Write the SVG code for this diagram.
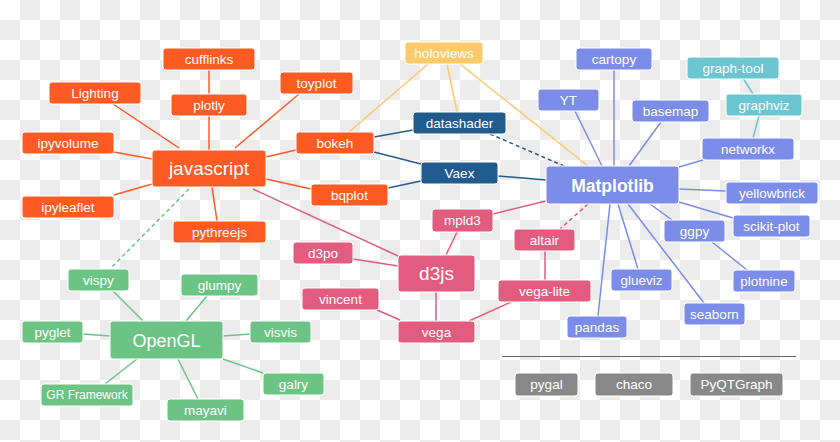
<svg xmlns="http://www.w3.org/2000/svg" width="840" height="442" viewBox="0 0 840 442">
<defs>
<pattern id="checker" x="0" y="0" width="40" height="40" patternUnits="userSpaceOnUse">
<rect x="0" y="0" width="40" height="40" fill="#ffffff"/>
<rect x="20" y="0" width="20" height="20" fill="#ececec"/>
<rect x="0" y="20" width="20" height="20" fill="#ececec"/>
</pattern>
<style>
.n rect{stroke:#ffffff;stroke-width:1;}
.n text{fill:#ffffff;font-family:"Liberation Sans",Arial,sans-serif;font-size:13.5px;text-anchor:middle;}
.big text{font-size:19px;}
.or rect{fill:#fd5a24;}
.ye rect{fill:#fdc96b;}
.db rect{fill:#225c8f;}
.bl rect{fill:#7b8ce9;}
.te rect{fill:#6cc6d2;}
.pk rect{fill:#e15c7e;}
.gr rect{fill:#6cc484;}
.gy rect{fill:#888888;}
#connectors line{stroke-width:1.5;fill:none;}
.c-or{stroke:#fd5a24;}
.c-ye{stroke:#fdc96b;}
.c-db{stroke:#225c8f;}
.c-bl{stroke:#7b8ce9;}
.c-te{stroke:#6cc6d2;}
.c-pk{stroke:#e15c7e;}
.c-gr{stroke:#6cc484;}
.dash{stroke-dasharray:4 3;}
</style>
</defs>
<rect x="0" y="0" width="840" height="442" fill="url(#checker)"/>

<g id="connectors">
<line class="c-or" x1="113" y1="104" x2="179" y2="148"/>
<line class="c-or" x1="209" y1="70" x2="209" y2="94"/>
<line class="c-or" x1="209" y1="116" x2="209" y2="150"/>
<line class="c-or" x1="235" y1="148" x2="299" y2="94"/>
<line class="c-or" x1="114" y1="152" x2="152" y2="159"/>
<line class="c-or" x1="114" y1="195" x2="152" y2="184"/>
<line class="c-or" x1="212" y1="187" x2="217" y2="221"/>
<line class="c-or" x1="266" y1="157" x2="296" y2="150"/>
<line class="c-or" x1="266" y1="179" x2="311" y2="189"/>
<line class="c-pk" x1="253" y1="189" x2="398" y2="256"/>
<line class="c-gr dash" x1="189" y1="189" x2="110" y2="269"/>
<line class="c-ye" x1="428" y1="64" x2="349" y2="132"/>
<line class="c-ye" x1="447" y1="64" x2="457" y2="112"/>
<line class="c-ye" x1="460" y1="64" x2="588" y2="166"/>
<line class="c-db" x1="374" y1="137" x2="413" y2="130"/>
<line class="c-db" x1="374" y1="152" x2="421" y2="164"/>
<line class="c-db" x1="388" y1="188" x2="421" y2="181"/>
<line class="c-db dash" x1="490" y1="134" x2="564" y2="166"/>
<line class="c-db" x1="498" y1="176" x2="546" y2="180"/>
<line class="c-pk" x1="493" y1="214" x2="546" y2="201"/>
<line class="c-pk dash" x1="588" y1="204" x2="560" y2="229"/>
<line class="c-pk" x1="457" y1="232" x2="446" y2="255"/>
<line class="c-pk" x1="353" y1="259" x2="398" y2="266"/>
<line class="c-pk" x1="436" y1="292" x2="436" y2="321"/>
<line class="c-pk" x1="377" y1="310" x2="400" y2="320"/>
<line class="c-pk" x1="511" y1="302" x2="469" y2="321"/>
<line class="c-pk" x1="545" y1="251" x2="545" y2="280"/>
<line class="c-bl" x1="575" y1="111" x2="602" y2="166"/>
<line class="c-bl" x1="614" y1="70" x2="614" y2="166"/>
<line class="c-bl" x1="661" y1="122" x2="629" y2="166"/>
<line class="c-bl" x1="703" y1="160" x2="679" y2="167"/>
<line class="c-bl" x1="679" y1="189" x2="726" y2="191"/>
<line class="c-bl" x1="679" y1="202" x2="733" y2="218"/>
<line class="c-bl" x1="650" y1="204" x2="672" y2="220"/>
<line class="c-bl" x1="618" y1="204" x2="638" y2="269"/>
<line class="c-bl" x1="610" y1="204" x2="598" y2="316"/>
<line class="c-bl" x1="628" y1="204" x2="704" y2="303"/>
<line class="c-bl" x1="712" y1="242" x2="747" y2="270"/>
<line class="c-te" x1="743" y1="78" x2="753" y2="94"/>
<line class="c-te" x1="759" y1="116" x2="753" y2="138"/>
<line class="c-gr" x1="113" y1="291" x2="143" y2="321"/>
<line class="c-gr" x1="207" y1="296" x2="186" y2="321"/>
<line class="c-gr" x1="83" y1="334" x2="110" y2="336"/>
<line class="c-gr" x1="223" y1="336" x2="250" y2="334"/>
<line class="c-gr" x1="223" y1="359" x2="263" y2="373"/>
<line class="c-gr" x1="137" y1="359" x2="105" y2="384"/>
<line class="c-gr" x1="178" y1="359" x2="198" y2="399"/>
</g>

<line x1="502" y1="356.5" x2="796" y2="356.5" stroke="#666666" stroke-width="1"/>

<g id="cufflinks" class="n or"><rect x="163" y="48" width="92" height="22" rx="3"/><text x="209" y="63.7">cufflinks</text></g>
<g id="lighting" class="n or"><rect x="49" y="82" width="92" height="22" rx="3"/><text x="95" y="97.7">Lighting</text></g>
<g id="plotly" class="n or"><rect x="171" y="94" width="76" height="22" rx="3"/><text x="209" y="109.7">plotly</text></g>
<g id="toyplot" class="n or"><rect x="280" y="72" width="73" height="22" rx="3"/><text x="316.5" y="87.7">toyplot</text></g>
<g id="ipyvolume" class="n or"><rect x="22" y="132" width="92" height="22" rx="3"/><text x="68" y="147.7">ipyvolume</text></g>
<g id="javascript" class="n or big"><rect x="152" y="150" width="114" height="37" rx="3"/><text x="209" y="175">javascript</text></g>
<g id="ipyleaflet" class="n or"><rect x="22" y="196" width="92" height="22" rx="3"/><text x="68" y="211.7">ipyleaflet</text></g>
<g id="pythreejs" class="n or"><rect x="173" y="221" width="93" height="22" rx="3"/><text x="219.5" y="236.7">pythreejs</text></g>
<g id="bokeh" class="n or"><rect x="296" y="132" width="78" height="22" rx="3"/><text x="335" y="147.7">bokeh</text></g>
<g id="bqplot" class="n or"><rect x="311" y="184" width="77" height="22" rx="3"/><text x="349.5" y="199.7">bqplot</text></g>

<g id="holoviews" class="n ye"><rect x="405" y="42" width="78" height="22" rx="3"/><text x="444" y="57.7">holoviews</text></g>
<g id="datashader" class="n db"><rect x="413" y="112" width="93" height="22" rx="3"/><text x="459.5" y="127.7">datashader</text></g>
<g id="vaex" class="n db"><rect x="421" y="162" width="77" height="22" rx="3"/><text x="459.5" y="177.7">Vaex</text></g>

<g id="cartopy" class="n bl"><rect x="576" y="48" width="76" height="22" rx="3"/><text x="614" y="63.7">cartopy</text></g>
<g id="yt" class="n bl"><rect x="538" y="89" width="61" height="22" rx="3"/><text x="568.5" y="104.7">YT</text></g>
<g id="basemap" class="n bl"><rect x="632" y="100" width="77" height="22" rx="3"/><text x="670.5" y="115.7">basemap</text></g>
<g id="networkx" class="n bl"><rect x="702" y="138" width="92" height="22" rx="3"/><text x="748" y="153.7">networkx</text></g>
<g id="matplotlib" class="n bl big"><rect x="546" y="166" width="133" height="38" rx="3"/><text x="612.5" y="191.5" style="font-weight:bold;font-size:17.5px">Matplotlib</text></g>
<g id="yellowbrick" class="n bl"><rect x="726" y="182" width="92" height="22" rx="3"/><text x="772" y="197.7">yellowbrick</text></g>
<g id="scikit-plot" class="n bl"><rect x="733" y="215" width="77" height="22" rx="3"/><text x="771.5" y="230.7">scikit-plot</text></g>
<g id="ggpy" class="n bl"><rect x="664" y="220" width="61" height="22" rx="3"/><text x="694.5" y="235.7">ggpy</text></g>
<g id="glueviz" class="n bl"><rect x="611" y="269" width="61" height="22" rx="3"/><text x="641.5" y="284.7">glueviz</text></g>
<g id="plotnine" class="n bl"><rect x="733" y="270" width="62" height="22" rx="3"/><text x="764" y="285.7">plotnine</text></g>
<g id="seaborn" class="n bl"><rect x="684" y="303" width="61" height="22" rx="3"/><text x="714.5" y="318.7">seaborn</text></g>
<g id="pandas" class="n bl"><rect x="567" y="316" width="60" height="22" rx="3"/><text x="597" y="331.7">pandas</text></g>

<g id="graph-tool" class="n te"><rect x="687" y="57" width="92" height="22" rx="3"/><text x="733" y="72.7">graph-tool</text></g>
<g id="graphviz" class="n te"><rect x="726" y="94" width="76" height="22" rx="3"/><text x="764" y="109.7">graphviz</text></g>

<g id="mpld3" class="n pk"><rect x="432" y="209" width="61" height="23" rx="3"/><text x="462.5" y="225.2">mpld3</text></g>
<g id="altair" class="n pk"><rect x="514" y="229" width="61" height="22" rx="3"/><text x="544.5" y="244.7">altair</text></g>
<g id="d3po" class="n pk"><rect x="293" y="242" width="60" height="22" rx="3"/><text x="323" y="257.7">d3po</text></g>
<g id="d3js" class="n pk big"><rect x="398" y="255" width="77" height="37" rx="3"/><text x="436.5" y="280">d3js</text></g>
<g id="vincent" class="n pk"><rect x="302" y="288" width="77" height="22" rx="3"/><text x="340.5" y="303.7">vincent</text></g>
<g id="vega-lite" class="n pk"><rect x="498" y="280" width="93" height="22" rx="3"/><text x="544.5" y="295.7">vega-lite</text></g>
<g id="vega" class="n pk"><rect x="398" y="321" width="77" height="22" rx="3"/><text x="436.5" y="336.7">vega</text></g>

<g id="vispy" class="n gr"><rect x="68" y="269" width="61" height="22" rx="3"/><text x="98.5" y="284.7">vispy</text></g>
<g id="glumpy" class="n gr"><rect x="181" y="274" width="77" height="22" rx="3"/><text x="219.5" y="289.7">glumpy</text></g>
<g id="pyglet" class="n gr"><rect x="22" y="321" width="61" height="22" rx="3"/><text x="52.5" y="336.7">pyglet</text></g>
<g id="opengl" class="n gr big"><rect x="110" y="321" width="113" height="38" rx="3"/><text x="166.5" y="346.5" style="font-size:18px">OpenGL</text></g>
<g id="visvis" class="n gr"><rect x="250" y="321" width="61" height="22" rx="3"/><text x="280.5" y="336.7">visvis</text></g>
<g id="galry" class="n gr"><rect x="263" y="373" width="61" height="22" rx="3"/><text x="293.5" y="388.7">galry</text></g>
<g id="gr-framework" class="n gr"><rect x="41" y="384" width="92" height="22" rx="3"/><text x="87" y="399.3" style="font-size:12px">GR Framework</text></g>
<g id="mayavi" class="n gr"><rect x="167" y="399" width="77" height="22" rx="3"/><text x="205.5" y="414.7">mayavi</text></g>

<g id="pygal" class="n gy"><rect x="515" y="373" width="63" height="23" rx="3"/><text x="546.5" y="389.2">pygal</text></g>
<g id="chaco" class="n gy"><rect x="595" y="373" width="78" height="23" rx="3"/><text x="634" y="389.2">chaco</text></g>
<g id="pyqtgraph" class="n gy"><rect x="690" y="373" width="93" height="23" rx="3"/><text x="736.5" y="389.2">PyQTGraph</text></g>
</svg>
